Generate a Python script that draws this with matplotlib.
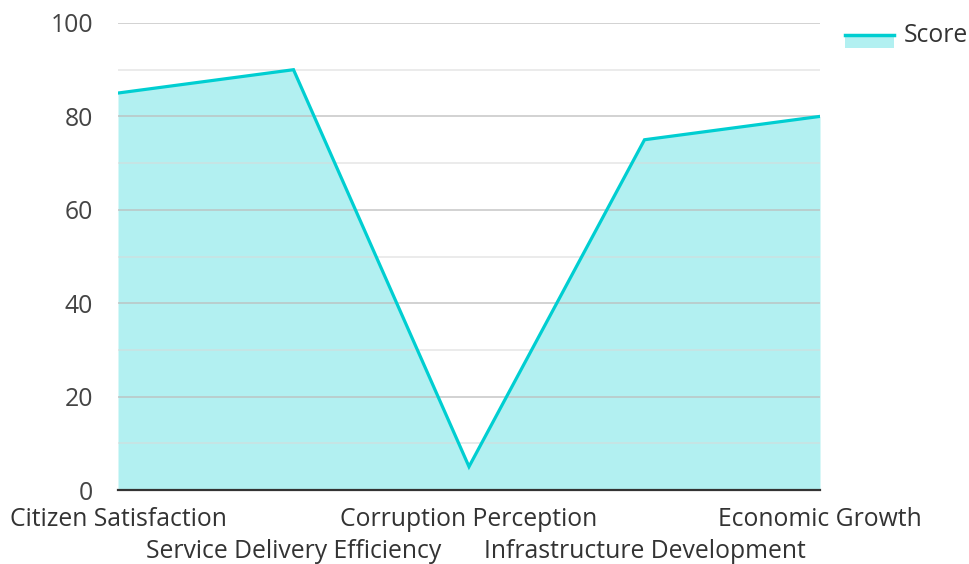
import matplotlib.pyplot as plt
from matplotlib.patches import Rectangle
from matplotlib.lines import Line2D

categories = ["Citizen Satisfaction", "Service Delivery Efficiency", "Corruption Perception",
              "Infrastructure Development", "Economic Growth"]
scores = [85, 90, 5, 75, 80]
yticks = [0, 20, 40, 60, 80, 100]
series_name = "Score"

line_color = "#00CED1"
plt.rcParams['font.family'] = ['Open Sans', 'DejaVu Sans']
fs = 17.8

fig = plt.figure(figsize=(9.69, 5.64), dpi=100)
ax = fig.add_axes([118/969, 74/564, 702/969, 467/564])

x = list(range(len(categories)))
ax.fill_between(x, 0, scores, color=line_color, alpha=0.3, linewidth=0, zorder=1)
ax.plot(x, scores, color=line_color, linewidth=2.3, zorder=3, solid_joinstyle='miter')

# gridlines: minor every 10, major every 20
for v in range(10, 101, 10):
    if v % 20 == 0:
        ax.axhline(v, color="#bdbdbd", linewidth=1.2, alpha=0.8, zorder=2)
    else:
        ax.axhline(v, color="#d9d9d9", linewidth=1.2, alpha=0.6, zorder=2)

ax.set_xlim(0, len(categories) - 1)
ax.set_ylim(0, 100)
ax.set_yticks(yticks)
ax.set_yticklabels([str(v) for v in yticks])
ax.set_xticks(x)
ax.set_xticklabels(categories)

for s in ["top", "right", "left"]:
    ax.spines[s].set_visible(False)
ax.spines["bottom"].set_color("#333333")
ax.spines["bottom"].set_linewidth(1.6)
ax.spines["bottom"].set_zorder(4)
ax.tick_params(axis="y", length=0, pad=18, labelsize=fs, labelcolor="#444444")
ax.tick_params(axis="x", length=0, labelsize=fs, labelcolor="#333333")
# staggered category labels: every other one on a second row
for i, t in enumerate(ax.xaxis.get_major_ticks()):
    t.set_pad(12.5 if i % 2 == 0 else 35.5)

# legend drawn by hand: fill swatch with line on top
fig.add_artist(Rectangle((845/969, 1 - 48/564), 49/969, 14/564, transform=fig.transFigure,
                         facecolor=line_color, alpha=0.3, edgecolor="none"))
fig.add_artist(Line2D([845/969, 894/969], [1 - 35/564, 1 - 35/564], transform=fig.transFigure,
                      color=line_color, linewidth=2.5))
fig.text(904/969, 1 - 36/564, series_name, fontsize=fs, color="#333333", va="center")

fig.savefig("out.png", dpi=100)
